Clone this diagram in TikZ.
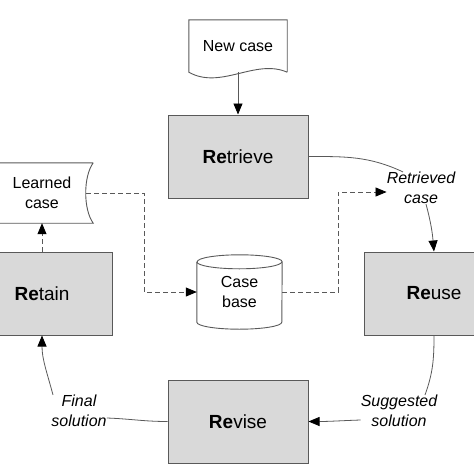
\documentclass[tikz,border=0pt]{standalone}
\usepackage{fontspec}
\setmainfont{Liberation Sans}
\usetikzlibrary{arrows.meta}
\definecolor{boxgray}{gray}{0.85}
\definecolor{linegray}{gray}{0.35}
\begin{document}
\begin{tikzpicture}[x=1pt,y=-1pt,
	phase/.style={draw=linegray,fill=boxgray,line width=1pt,minimum width=140pt,minimum height=83pt,font=\fontsize{19}{23}\selectfont},
	holder/.style={inner sep=0pt,align=center,font=\fontsize{16}{20}\selectfont},
	note/.style={inner sep=0pt,align=center,font=\fontsize{16}{20}\selectfont\itshape},
	outline/.style={draw=linegray,line width=0.9pt},
	link/.style={draw=linegray,line width=0.8pt},
	flow/.style={link,-{Triangle[length=11pt,width=9pt,color=black]}},
	dflow/.style={flow,dash pattern=on 5pt off 3pt}]
	\useasboundingbox (0,0) rectangle (474,474);
	\clip (0,0) rectangle (474,474);
	\node[phase] (retrieve) at (238,156.5) {\textbf{Re}trieve};
	\node[phase] (retain) at (42,293.5) {\textbf{Re}tain};
	\node[phase] (reuse) at (434,293.5) {\textbf{Re}use};
	\node[phase] (revise) at (238,421.5) {\textbf{Re}vise};
	\node[holder,minimum width=98pt,minimum height=52pt] (newcase) at (238,46) {New case};
	\draw[outline] (newcase.south east) -- (newcase.north east) -- (newcase.north west) -- (newcase.south west)
		.. controls +(32,18) and +(-32,-14) .. (newcase.south east);
	\node[holder,minimum width=102pt,minimum height=60pt] (learned) at (42,193) {Learned\\case};
	\draw[outline] (learned.north east) -- (learned.north west) -- (learned.south west) -- (learned.south east)
		.. controls +(-10,-14) and +(-10,14) .. (learned.north east);
	\node[holder,minimum width=85pt,minimum height=60pt] (base) at (239.5,292) {Case\\base};
	\draw[outline] (base.north west) -- (base.south west) arc[start angle=180,end angle=360,x radius=42.5pt,y radius=7pt]
		-- (base.north east) arc[start angle=0,end angle=180,x radius=42.5pt,y radius=7pt];
	\draw[outline] (base.north west) arc[start angle=180,end angle=360,x radius=42.5pt,y radius=7pt];
	\node[note] (retrieved) at (421,188) {Retrieved\\case};
	\node[note] (suggested) at (399,411) {Suggested\\solution};
	\node[note] (final) at (79,411) {Final\\solution};
	\draw[flow] (newcase.south) -- (retrieve.north);
	\draw[link] (retrieve.east) to[out=0,in=155] ([xshift=-18pt]retrieved.north);
	\draw[flow] ([xshift=5pt]retrieved.south) to[out=-75,in=95] (reuse.north);
	\draw[link] (reuse.south) to[out=-90,in=70] ([xshift=26pt]suggested.north);
	\draw[flow] ([yshift=-9pt]suggested.west) to[out=182,in=0] (revise.east);
	\draw[link] (revise.west) to[out=180,in=-2] ([yshift=-7pt]final.east);
	\draw[flow] ([xshift=-26pt]final.north) to[out=105,in=-90] (retain.south);
	\draw[dflow] (retain.north) -- (learned.south);
	\draw[dflow] ([xshift=-7pt]learned.east) -- ++(58,0) |- (base.west);
	\draw[dflow] (base.east) -- ++(56,0) |- ([yshift=-4pt]retrieved.west);
\end{tikzpicture}
\end{document}
